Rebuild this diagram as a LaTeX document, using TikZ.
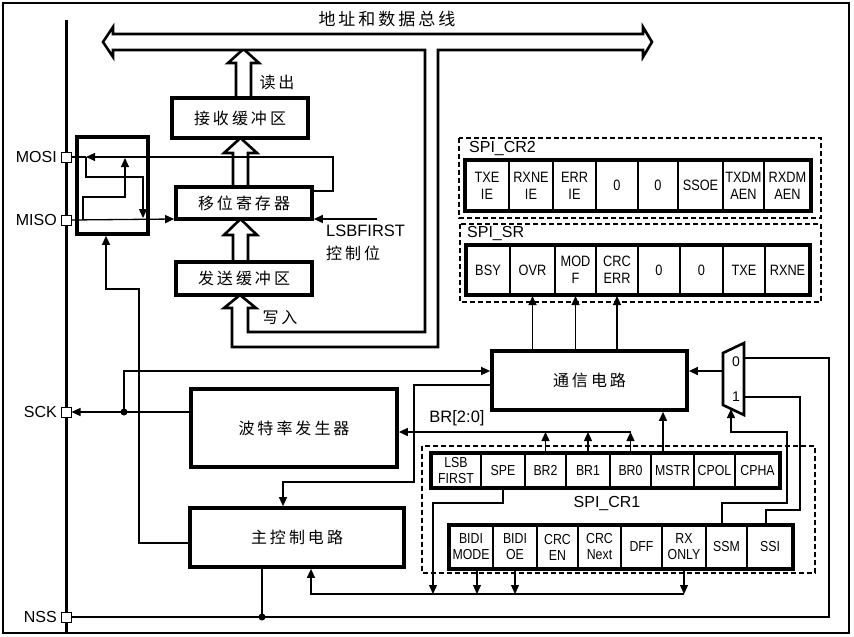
\documentclass[tikz,border=0pt]{standalone}
\usepackage{fontspec}
\setmainfont{Liberation Sans}
\newfontfamily\cjk{Noto Sans CJK SC}
\newfontfamily\narrowsf[FakeStretch=0.85]{Liberation Sans}
\usetikzlibrary{arrows.meta}
\newcommand\gp{\kern3pt}
\begin{document}
\begin{tikzpicture}[x=1pt,y=-1pt,
  wire/.style={line width=1.3pt},
  arr/.style={wire,-{Triangle[length=9pt,width=8pt]}},
  block/.style={draw,line width=3.7pt,fill=white,inner sep=0pt,font=\cjk\fontsize{16}{16}\selectfont},
  hollow/.style={draw,line width=2.6pt,fill=white,line join=miter},
  pin/.style={draw,line width=1pt,fill=white,minimum size=10pt,inner sep=0pt},
  pinlab/.style={anchor=east,inner sep=0pt,font=\fontsize{16}{16}\selectfont},
  lab/.style={inner sep=0pt,font=\fontsize{16.5}{17}\selectfont},
  zh/.style={inner sep=0pt,font=\cjk\fontsize{16}{16}\selectfont},
  cell/.style={draw,line width=2pt,inner sep=0pt,align=center,font=\narrowsf\fontsize{15}{17}\selectfont},
  cellb/.style={cell,font=\narrowsf\fontsize{14.5}{16}\selectfont},
  regbox/.style={draw,line width=3.7pt},
  dbox/.style={draw,line width=1.2pt,dash pattern=on 5pt off 3pt},
  dot/.style={circle,fill,inner sep=0pt,minimum size=7pt}]

\useasboundingbox (0,0) rectangle (854,637);
\draw[line width=1.5pt] (3,3) rectangle (849,633);
\draw[line width=3pt] (66,20) -- (66,633);

% hollow data arrows and bus
\draw[hollow] (236,98) -- (236,63) -- (228,63) -- (243.5,49) -- (259,63) -- (251,63) -- (251,98);
\draw[hollow] (233,187) -- (233,153) -- (224,153) -- (240.5,138) -- (257,153) -- (248,153) -- (248,187);
\draw[hollow] (233,262) -- (233,235) -- (224,235) -- (240.5,219) -- (257,235) -- (248,235) -- (248,262);
\draw[hollow] (113,34) -- (643,34) -- (643,27) -- (652,42) -- (643,57) -- (643,50) -- (438,50) -- (438,347)
  -- (232,347) -- (232,308) -- (224,308) -- (240,295) -- (256,308) -- (248,308) -- (248,332) -- (425,332)
  -- (425,50) -- (113,50) -- (113,57) -- (103,42) -- (113,27) -- cycle;

% blocks
\node[block,minimum width=136pt,minimum height=40pt] (rx) at (240,118) {接\gp{}收\gp{}缓\gp{}冲\gp{}区};
\node[block,minimum width=136pt,minimum height=32pt] (sh) at (244,203) {移\gp{}位\gp{}寄\gp{}存\gp{}器};
\node[block,minimum width=136pt,minimum height=33pt] (tx) at (244,278.5) {发\gp{}送\gp{}缓\gp{}冲\gp{}区};
\node[block,minimum width=195pt,minimum height=59pt] (comm) at (589.5,380.5) {通\gp{}信\gp{}电\gp{}路};
\node[block,minimum width=206pt,minimum height=78pt] (br) at (294,428) {波\gp{}特\gp{}率\gp{}发\gp{}生\gp{}器};
\node[block,minimum width=214pt,minimum height=59pt] (mc) at (297,537.5) {主\gp{}控\gp{}制\gp{}电\gp{}路};
\node[draw,line width=3.7pt,minimum width=71pt,minimum height=97pt,inner sep=0pt] (sw) at (112.5,185.5) {};

% text labels
\node[zh,font=\cjk\fontsize{17}{17}\selectfont] (buslab) at (387,19) {地\gp{}址\gp{}和\gp{}数\gp{}据\gp{}总\gp{}线};
\node[zh] (rd) at (277,82) {读\gp{}出};
\node[zh] (wr) at (280,318) {写\gp{}入};
\node[lab,anchor=west] (lsb) at (326,231) {LSBFIRST};
\node[zh,anchor=west] (lsbz) at (326,253) {控\gp{}制\gp{}位};
\node[lab] (brl) at (457,418) {BR[2:0]};

% pins
\node[pin] (mosi) at (66,157) {};
\node[pin] (miso) at (66,220) {};
\node[pin] (sck) at (66,412) {};
\node[pin] (nss) at (66,617) {};
\node[pinlab] (mosil) at (57,157) {MOSI};
\node[pinlab] (misol) at (57,220) {MISO};
\node[pinlab] (sckl) at (57,412) {SCK};
\node[pinlab] (nssl) at (57,617) {NSS};

% MOSI / MISO switching
\coordinate (sw1) at (86,157);
\coordinate (lsbin) at (377,219);
\draw[arr] (sh.east |- 0,191) -- (333,191) -- (333,157) -- (sw1);
\draw[wire] (sw1) -- (mosi.east);
\draw[arr] (sw1) -- (86,177) -- (143,177) -- (143,218);
\draw[arr] (miso.east) -- (sh.west |- 0,219);
\draw[arr] (83,220) -- (83,197) -- (125,197) -- (125,158);
\draw[arr] (lsbin) -- (sh.east |- 0,219);
\draw[arr] (mc.west |- 0,543) -- (139,543) -- (139,289) -- (106,289) -- (sw.south -| 106,0);

% registers
\draw[dbox] (459,138) rectangle (821,218);
\draw[dbox] (460,224) rectangle (821,302);
\draw[dbox] (422,446) rectangle (815,573);
\node[lab,anchor=west,font=\fontsize{16}{16}\selectfont] (cr2l) at (469,149) {SPI\_CR2};
\node[lab,anchor=west,font=\fontsize{16}{16}\selectfont] (srl) at (467,234) {SPI\_SR};
\node[lab,font=\fontsize{16}{16}\selectfont] (cr1l) at (607,503) {SPI\_CR1};

\foreach \a/\b/\t [count=\i] in {465/509/{TXE\\IE},509/553/{RXNE\\IE},553/596/{ERR\\IE},596/638/0,638/678/0,678/723/SSOE,723/764/{TXDM\\AEN},764/811/{RXDM\\AEN}}
  \node[cell,minimum width={(\b-\a)*1pt},minimum height=51pt] (r2\i) at ({(\a+\b)/2},185.5) {\t};
\draw[regbox] (465,160) rectangle (811,211);

\foreach \a/\b/\t [count=\i] in {466/510/BSY,510/555/OVR,555/596/{MOD\\F},596/638/{CRC\\ERR},638/680/0,680/723/0,723/765/TXE,765/810/RXNE}
  \node[cell,minimum width={(\b-\a)*1pt},minimum height=50pt] (s\i) at ({(\a+\b)/2},270) {\t};
\draw[regbox] (466,245) rectangle (810,295);

\foreach \a/\b/\t [count=\i] in {431/481/{LSB\\FIRST},481/525/SPE,525/566/BR2,566/610/BR1,610/651/BR0,651/694/MSTR,694/735/CPOL,735/780/CPHA}
  \node[cellb,minimum width={(\b-\a)*1pt},minimum height=35pt] (c1\i) at ({(\a+\b)/2},470.5) {\t};
\draw[regbox] (431,453) rectangle (780,488);

\foreach \a/\b/\t [count=\i] in {449/493/{BIDI\\MODE},493/537/{BIDI\\OE},537/578/{CRC\\EN},578/621/{CRC\\Next},621/662/DFF,662/706/{RX\\ONLY},706/747/SSM,747/793/SSI}
  \node[cellb,minimum width={(\b-\a)*1pt},minimum height=44pt] (c2\i) at ({(\a+\b)/2},547) {\t};
\draw[regbox] (449,525) rectangle (793,569);

% mux
\draw[line width=2.6pt,fill=white] (723,353) -- (744,343) -- (744,415) -- (723,405) -- cycle;
\coordinate (muxo) at (723,371);
\coordinate (mux0) at (744,358);
\coordinate (mux1) at (744,397);
\coordinate (muxs) at (731,409);
\node[lab,font=\fontsize{14}{14}\selectfont] (m0) at (736,362) {0};
\node[lab,font=\fontsize{14}{14}\selectfont] (m1) at (736,397) {1};

% clock, control wiring
\node[dot] (d1) at (124,412) {};
\node[dot] (d2) at (262,617) {};
\draw[arr] (br.west |- 0,412) -- (sck.east);
\draw[arr] (d1.center) -- (124,371) -- (comm.west |- 0,371);
\draw[arr] (comm.west |- 0,385) -- (414,385) -- (414,482) -- (283,482) -- (mc.north -| 283,0);
\draw[arr] (c15.north) -- (c15.north |- 0,432);
\draw[arr] (c14.north) -- (c14.north |- 0,432);
\draw[arr] (c13.north) -- (c13.north |- 0,432);
\draw[arr] (c15.north |- 0,432) -- (br.east |- 0,432);
\draw[arr] (c16.north -| 663,0) -- (comm.south -| 663,0);
\draw[arr] (comm.north -| s2.south) -- (s2.south);
\draw[arr] (comm.north -| s3.south) -- (s3.south);
\draw[arr] (comm.north -| s4.south) -- (s4.south);
\draw[arr] (muxo) -- (comm.east |- muxo);
\draw[arr] (c27.north -| 722,0) -- (722,503) -- (787,503) -- (787,432) -- (731,432) -- (muxs);
\draw[wire] (c28.north -| 766,0) -- (766,510) -- (800,510) -- (800,397) -- (mux1);
\draw[wire] (nss.east) -- (829,617) -- (829,358) -- (mux0);
\draw[wire] (d2.center) -- (mc.south -| d2.center);
\draw[arr] (c26.south |- 0,594) -- (311,594) -- (mc.south -| 311,0);
\draw[arr] (c12.south) -- (c12.south |- 0,503) -- (433,503) -- (433,594);
\draw[arr] (c21.south -| 477,0) -- (477,594);
\draw[arr] (c22.south) -- (c22.south |- 0,594);
\draw[arr] (c26.south) -- (c26.south |- 0,594);
\end{tikzpicture}
\end{document}
